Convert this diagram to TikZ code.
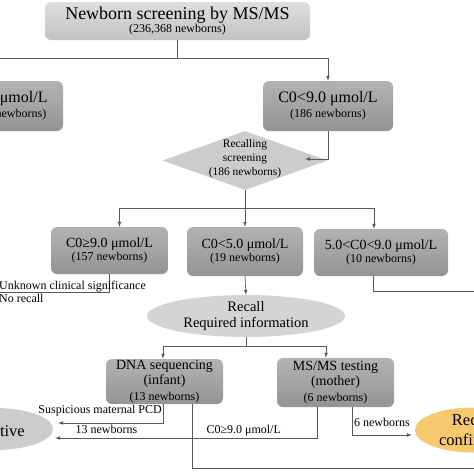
\documentclass[tikz,border=0pt]{standalone}
\usepackage{fontspec}
\setmainfont{Liberation Serif}
\usepackage{tikz}
\definecolor{platinum}{rgb}{0.87, 0.87, 0.87}
\definecolor{silvergray}{rgb}{0.76, 0.76, 0.76}
\definecolor{ashgray}{rgb}{0.70, 0.70, 0.70}
\definecolor{battleshipgray}{rgb}{0.58, 0.58, 0.58}
\definecolor{chinesesilver}{rgb}{0.80, 0.80, 0.80}
\definecolor{lightsilver}{rgb}{0.83, 0.83, 0.83}
\definecolor{apricot}{rgb}{0.97, 0.79, 0.43}
\definecolor{linegray}{rgb}{0.35, 0.35, 0.35}
\usetikzlibrary{shapes.geometric}

\begin{document}
\begin{tikzpicture}[x=1pt, y=-1pt, >=latex,
        flow/.style={draw=linegray, line width=0.7pt},
        lightbox/.style={rounded corners=6pt, inner sep=0pt, align=center, top color=platinum, bottom color=silvergray},
        darkbox/.style={rounded corners=6pt, inner sep=0pt, align=center, top color=ashgray, bottom color=battleshipgray},
        lbl/.style={font=\fontsize{12}{14}\selectfont, inner sep=2pt}]

    \useasboundingbox (0,0) rectangle (474,474);

                % Screening
                \node[lightbox, minimum width=265, minimum height=38, font=\fontsize{12}{13}\selectfont] (screen) at (177.5,21) {{\fontsize{18}{13}\selectfont Newborn screening by MS/MS}\\(236,368 newborns)};
                \node[darkbox, minimum width=130, minimum height=50, font=\fontsize{12}{15}\selectfont] (hiC0) at (-2,106) {{\fontsize{16}{15}\selectfont C0≥9.0 μmol/L}\\(236,182 newborns)};
                \node[darkbox, minimum width=130, minimum height=50, font=\fontsize{12}{15}\selectfont] (lowC0) at (328,106) {{\fontsize{16}{15}\selectfont C0<9.0 μmol/L}\\(186 newborns)};

                \node[diamond, fill=chinesesilver, minimum width=165, minimum height=59, inner sep=0pt] (recallscr) at (245,160.5) {};
                \node[align=center, inner sep=0pt, font=\fontsize{11.5}{14}\selectfont] (recallscrtxt) at ([yshift=2pt]recallscr.center) {Recalling\\screening\\(186 newborns)};

                \node[darkbox, minimum width=117, minimum height=47, font=\fontsize{12}{13.5}\selectfont] (geq) at (109.5,250.5) {{\fontsize{14}{13.5}\selectfont C0≥9.0 μmol/L}\\(157 newborns)};
                \node[darkbox, minimum width=116, minimum height=49, font=\fontsize{12}{13.5}\selectfont] (lt5) at (245,251.5) {{\fontsize{14}{13.5}\selectfont C0<5.0 μmol/L}\\(19 newborns)};
                \node[darkbox, minimum width=134, minimum height=47, font=\fontsize{12}{13.5}\selectfont] (mid) at (381,252.5) {{\fontsize{14}{13.5}\selectfont 5.0<C0<9.0 μmol/L}\\(10 newborns)};

                % Recall
                \node[ellipse, fill=lightsilver, minimum width=198, minimum height=42, inner sep=0pt, align=center, font=\fontsize{14.5}{16.5}\selectfont] (recall) at (246,316) {Recall\\Required information};

                \node[darkbox, minimum width=117, minimum height=45, font=\fontsize{14}{15.5}\selectfont] (dna) at (164.5,381.5) {DNA sequencing\\(infant)\\{\fontsize{12}{15.5}\selectfont (13 newborns)}};
                \node[darkbox, minimum width=117, minimum height=49, font=\fontsize{14}{15.5}\selectfont] (msms) at (335.5,382.5) {MS/MS testing\\(mother)\\{\fontsize{12}{15.5}\selectfont (6 newborns)}};

                \node[ellipse, fill=chinesesilver, minimum width=116, minimum height=42, inner sep=0pt, text height=19pt, font=\fontsize{16.5}{20}\selectfont] (neg) at (-5,429) {Negative};
                \node[ellipse, fill=apricot, minimum width=116, minimum height=45, inner sep=0pt, align=center, font=\fontsize{16.5}{20}\selectfont] (conf) at (473,430) {Recall\\confirmed};

                \coordinate (scrin) at (305,159);
                \coordinate (norec) at (-10,292);
                \coordinate (midout) at (490,291);
                \coordinate (dnaout) at (490,468);

                % Flow
                \draw[flow, ->] (screen.south) -- ++(0,18) -| (hiC0.north);
                \draw[flow, ->] (screen.south) -- ++(0,18) -| (lowC0.north);
                \draw[flow, ->] (lowC0.south) |- (scrin);
                \draw[flow] (recallscr.south) -- ++(0,18) coordinate (split1);
                \draw[flow, ->] (split1) -| ([xshift=10pt]geq.north);
                \draw[flow, ->] (split1) -- (lt5.north);
                \draw[flow, ->] (split1) -| ([xshift=-7pt]mid.north);
                \draw[flow, ->] (geq.south) |- (norec);
                \node[lbl, anchor=base west] (unknown) at (-3,289) {Unknown clinical significance};
                \node[lbl, anchor=base west] (norecall) at (-3,302) {No recall};
                \draw[flow, ->] ([xshift=-8pt]mid.south) |- (midout);
                \draw[flow, ->] (lt5.south) -- (recall.north);
                \draw[flow] (recall.south) -- ++(0,9) coordinate (split2);
                \draw[flow, ->] (split2) -| ([xshift=-1.5pt]dna.north);
                \draw[flow, ->] (split2) -| ([xshift=-9.5pt]msms.north);

                % Results
                \draw[flow, ->] ([xshift=-1.5pt]dna.south) |- node[lbl, pos=0.8, above=5pt]{Suspicious maternal PCD} node[lbl, pos=0.77, below]{13 newborns} ([xshift=5pt, yshift=6pt]neg.east);
                \draw[flow, ->] ([xshift=-18.5pt]msms.south) |- node[lbl, pos=0.64, above]{C0≥9.0 μmol/L} ([xshift=2pt, yshift=-9pt]neg.east);
                \draw[flow, ->] ([xshift=16.5pt]msms.south) |- node[lbl, pos=0.75, above=6pt]{6 newborns} ([xshift=-3pt, yshift=-5pt]conf.west);
                \draw[flow, ->] ([xshift=27.5pt]dna.south) |- (dnaout);

\end{tikzpicture}
\end{document}
